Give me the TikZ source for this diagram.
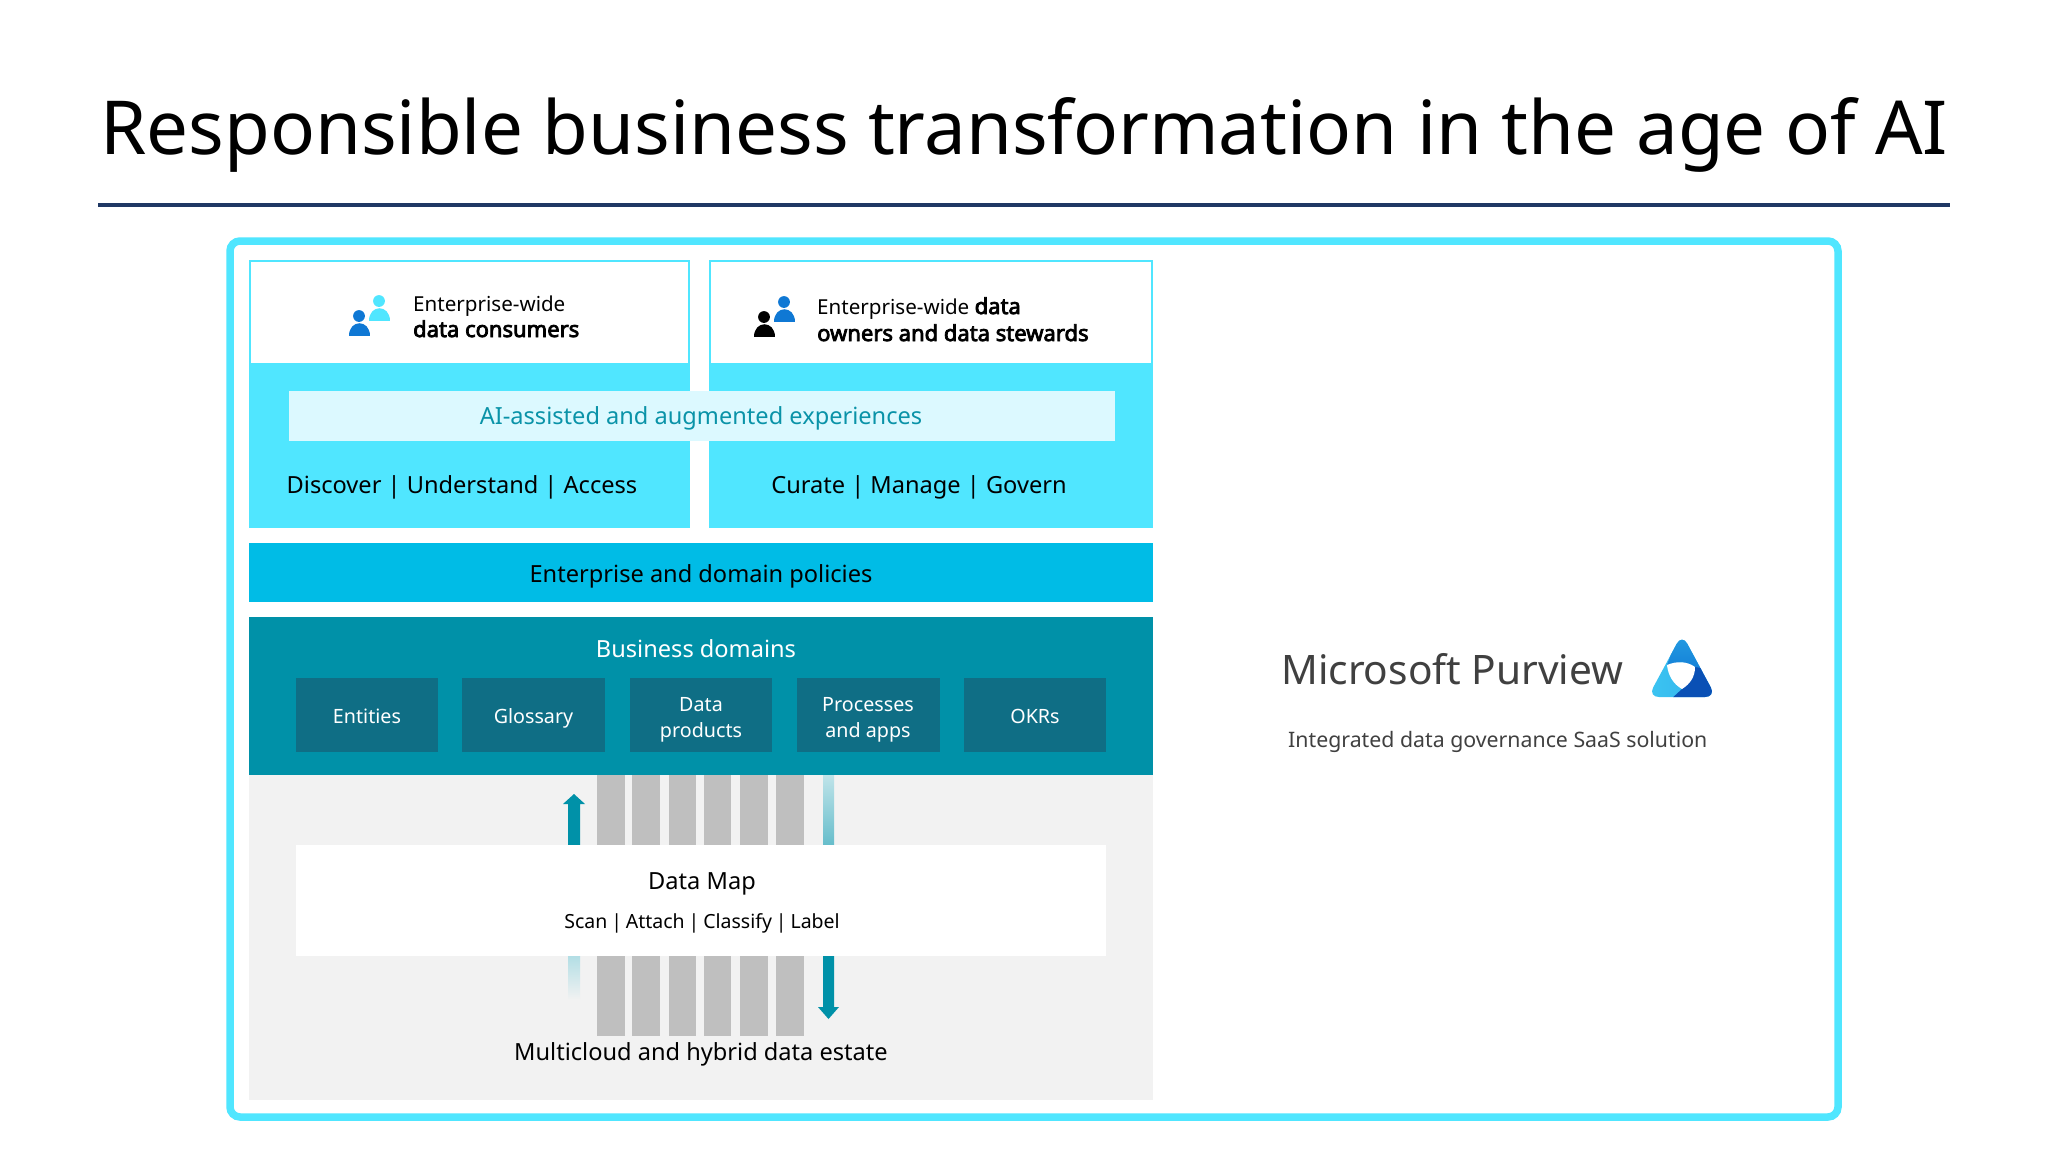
\documentclass[tikz,border=0pt]{standalone}
\usepackage{fontspec}
\setmainfont{Noto Sans}
\newfontfamily\boldfam{Noto Sans}[FakeBold=3.5]
\definecolor{cframe}{HTML}{50E6FF}
\definecolor{cpale}{HTML}{DCF9FF}
\definecolor{caitext}{HTML}{0A93A8}
\definecolor{cpolicy}{HTML}{00BCE6}
\definecolor{cdomain}{HTML}{0091A8}
\definecolor{ctile}{HTML}{0F6E85}
\definecolor{cestate}{HTML}{F2F2F2}
\definecolor{cstripe}{HTML}{BFBFBF}
\definecolor{cnavy}{HTML}{1F3864}
\definecolor{cdgray}{HTML}{404040}
\definecolor{ciblue}{HTML}{0F78D4}
\definecolor{cdeep}{HTML}{0A50B5}
\newcommand{\rect}[5]{\fill[#1] (#2,#3) rectangle (#4,#5);}
\newcommand{\person}[3]{\fill[#3] (#1,#2) circle[radius=5.9];
  \fill[#3] (#1-10.5,#2+20) .. controls (#1-10.5,#2+3) and (#1+10.5,#2+3) .. (#1+10.5,#2+20) -- cycle;}
\newcommand{\bfpart}[1]{{\boldfam\fontsize{22}{26}\selectfont #1}}
\tikzset{
  txt/.style={inner sep=0pt,anchor=base,font=\fontsize{23.6}{30}\selectfont},
  ltxt/.style={inner sep=0pt,anchor=base west,font=\fontsize{20.6}{26}\selectfont},
  tiletxt/.style={inner sep=0pt,anchor=base,text=white,font=\fontsize{19.7}{26}\selectfont},
}
\begin{document}
\begin{tikzpicture}[x=1pt,y=-1pt]
\useasboundingbox (0,0) rectangle (2048,1152);
\fill[white] (0,0) rectangle (2048,1152);
% title
\node[inner sep=0pt,anchor=base west,font=\fontsize{74.5}{90}\selectfont] (title) at (100,154) {Responsible business transformation in the age of AI};
\coordinate (ruleL) at (98,205); \coordinate (ruleR) at (1950,205);
\draw[cnavy,line width=4pt] (ruleL) -- (ruleR);
% frame
\draw[cframe,line width=7.5pt,rounded corners=10pt] (230,241) rectangle (1838,1117);
% top panels
\rect{cframe}{249}{260}{690}{528}
\rect{cframe}{709}{260}{1153}{528}
\fill[white] (251,262) rectangle (688,363);
\fill[white] (711,262) rectangle (1151,363);
\rect{cpale}{289}{391}{1115}{441}
\node[txt,text=caitext] (ai) at (701,424) {AI-assisted and augmented experiences};
\person{359}{316}{ciblue}
\person{379}{301}{cframe}
\person{764}{317}{black}
\person{784}{302}{ciblue}
\node[ltxt] (c1) at (413,311) {Enterprise-wide};
\node[ltxt] (c2) at (413,337) {\bfpart{data consumers}};
\node[ltxt] (o1) at (817,314) {Enterprise-wide \bfpart{data}};
\node[ltxt] (o2) at (817,341) {\bfpart{owners and data stewards}};
\node[txt] (disc) at (462,493) {Discover | Understand | Access};
\node[txt] (cur) at (919,493) {Curate | Manage | Govern};
% policies
\rect{cpolicy}{249}{543}{1153}{602}
\node[txt] (pol) at (701,582) {Enterprise and domain policies};
% estate
\rect{cestate}{249}{775}{1153}{1100}
% business domains
\rect{cdomain}{249}{617}{1153}{775}
\node[txt,text=white] (bd) at (696,657) {Business domains};
\rect{ctile}{296}{678}{438}{752}
\rect{ctile}{462}{678}{605}{752}
\rect{ctile}{630}{678}{772}{752}
\rect{ctile}{797}{678}{939.5}{752}
\rect{ctile}{964}{678}{1106}{752}
\node[tiletxt] (ent) at (367,723) {Entities};
\node[tiletxt] (glo) at (533.5,723) {Glossary};
\node[tiletxt] (dat) at (701,711) {Data};
\node[tiletxt] (pro) at (701,737) {products};
\node[tiletxt] (prc) at (868,711) {Processes};
\node[tiletxt] (apps) at (868,737) {and apps};
\node[tiletxt] (okr) at (1035,723) {OKRs};
% stripes
\foreach \a/\b in {597/625,632/660,669/696,704/731,740/768,776/804}{
  \fill[cstripe] (\a,775) rectangle (\b,845);
  \fill[cstripe] (\a,956) rectangle (\b,1036);
}
% arrows
\fill[cdomain] (568,845) -- (568,804) -- (563,804) -- (574,794) -- (585,804) -- (580,804) -- (580,845) -- cycle;
\fill[cdomain] (823,956) -- (823,1007) -- (818,1007) -- (828.5,1019) -- (839,1007) -- (834,1007) -- (834,956) -- cycle;
\shade[top color=cdomain!25!white,bottom color=cdomain!60!white] (823,775) rectangle (834,845);
\shade[top color=cdomain!30!white,bottom color=cestate] (568,956) rectangle (580,1000);
% data map
\rect{white}{296}{845}{1106}{956}
\node[txt] (dm) at (702,889) {Data Map};
\node[inner sep=0pt,anchor=base,font=\fontsize{19.5}{26}\selectfont] (scan) at (702,928) {\spaceskip=3.9pt\relax Scan | Attach | Classify | Label};
\node[txt] (multi) at (701,1060) {Multicloud and hybrid data estate};
% purview
\node[inner sep=0pt,anchor=base west,text=cdgray,font=\fontsize{40.6}{52}\selectfont] (mp) at (1281,684) {Microsoft Purview};
\node[inner sep=0pt,anchor=base west,text=cdgray,font=\fontsize{21.3}{28}\selectfont] (is) at (1288,747) {Integrated data governance SaaS solution};
% logo
\begin{scope}
\clip[rounded corners=11pt] (1682,634) -- (1716,697) -- (1648,697) -- cycle;
\shade[left color=cframe!70!ciblue,right color=ciblue!50!cframe] (1647,625) rectangle (1720,700);
\shade[top color=ciblue!60!cframe,bottom color=ciblue] (1682,625) -- (1725,625) -- (1725,680) -- (1695,667) -- (1682,662) -- (1667,665) -- cycle;
\fill[cdeep] (1725,672) -- (1725,700) -- (1670,700) -- (1682,689) -- (1695,667) -- cycle;
\fill[white] (1667,665) .. controls (1676,661) and (1687,661) .. (1695,667) .. controls (1695,677) and (1690,684) .. (1682,689) .. controls (1673,684) and (1668,675) .. (1667,665) -- cycle;
\end{scope}
\end{tikzpicture}
\end{document}
